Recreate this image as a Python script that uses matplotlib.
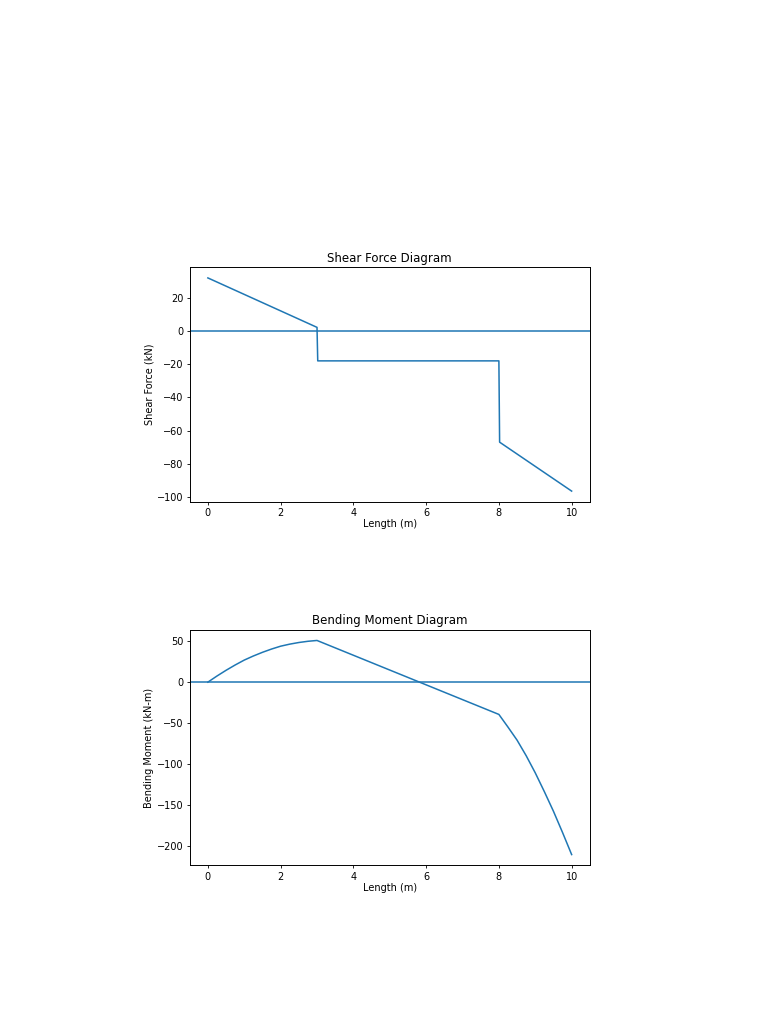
import matplotlib
matplotlib.use('Agg')
import matplotlib.pyplot as plt

# shear force values
shear_x = [0, 3, 3.02, 8, 8.02, 10]
shear_v = [32, 2.2, -18, -18, -67, -96.5]

# bending moment values
moment_x = [0, 0.25, 0.5, 0.75, 1, 1.25, 1.5, 1.75, 2, 2.25, 2.5, 2.75, 3,
            8, 8.25, 8.5, 8.75, 9, 9.25, 9.5, 9.75, 10]
moment_m = [0, 7.5, 14.5, 21, 27, 32, 36.5, 40.5, 44, 46.5, 48.5, 50, 51,
            -39.5, -55, -71, -90, -111, -134, -158, -184, -211]

plt.rcParams['font.size'] = 7

fig = plt.figure(figsize=(7.68, 10.24), dpi=100)

ax1 = fig.add_axes([0.247, 0.510, 0.521, 0.229])
ax1.plot(shear_x, shear_v, lw=1.1)
ax1.axhline(0, lw=1.1)
ax1.set_title('Shear Force Diagram', fontsize=8.5, pad=4)
ax1.set_xlabel('Length (m)', labelpad=1)
ax1.set_ylabel('Shear Force (kN)', labelpad=2)

ax2 = fig.add_axes([0.247, 0.155, 0.521, 0.230])
ax2.plot(moment_x, moment_m, lw=1.1)
ax2.axhline(0, lw=1.1)
ax2.set_title('Bending Moment Diagram', fontsize=8.5, pad=4)
ax2.set_xlabel('Length (m)', labelpad=1)
ax2.set_ylabel('Bending Moment (kN-m)', labelpad=2)

for ax in (ax1, ax2):
    ax.tick_params(length=2.5, width=0.6, pad=2)
    for s in ax.spines.values():
        s.set_linewidth(0.7)

fig.savefig('out.png', dpi=100)
